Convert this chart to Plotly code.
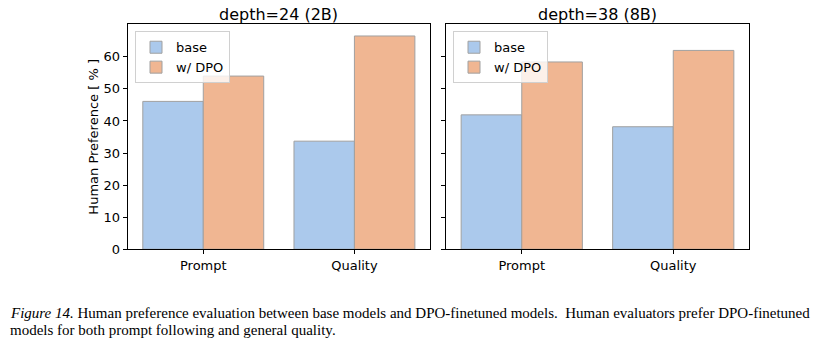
import plotly.graph_objects as go

categories = ["Prompt", "Quality"]
panel_titles = ["depth=24 (2B)", "depth=38 (8B)"]
series_names = ["base", "w/ DPO"]
base_2b = [46.1, 33.7]
dpo_2b = [54.0, 66.5]
base_8b = [41.9, 38.2]
dpo_8b = [58.4, 62.0]
y_ticks = [0, 10, 20, 30, 40, 50, 60]
caption_line1 = "<i>Figure 14.</i> Human preference evaluation between base models and DPO-finetuned models.  Human evaluators prefer DPO-finetuned"
caption_line2 = "models for both prompt following and general quality."

W, H = 836, 354
colors = ["#abc9ec", "#f0b692"]
edge = "#a0a0a0"
FONT = "DejaVu Sans"

fig = go.Figure()
panels = [(base_2b, dpo_2b, "x", "y", "legend"), (base_8b, dpo_8b, "x2", "y2", "legend2")]
for base, dpo, xa, ya, lg in panels:
    for name, vals, col in zip(series_names, [base, dpo], colors):
        fig.add_trace(go.Bar(
            x=categories, y=vals, name=name, xaxis=xa, yaxis=ya, legend=lg,
            marker=dict(color=col, line=dict(color=edge, width=1)),
            hoverinfo="skip",
        ))

def px_x(p):
    return p / W

def px_y(p):
    return 1 - p / H

ydom = [px_y(255), px_y(25)]
axis_common = dict(showline=True, linecolor="black", linewidth=1, mirror=True,
                   ticks="outside", ticklen=4, tickcolor="black", showgrid=False,
                   zeroline=False, tickfont=dict(family=FONT, size=13, color="black"))

fig.update_layout(
    width=W, height=H, margin=dict(l=0, r=0, t=0, b=0),
    paper_bgcolor="white", plot_bgcolor="white",
    barmode="group", bargap=0.2, bargroupgap=0,
    font=dict(family=FONT, size=13, color="black"),
    xaxis=dict(domain=[px_x(127.7), px_x(430)], range=[-0.5, 1.5], anchor="y", **axis_common),
    xaxis2=dict(domain=[px_x(446), px_x(749)], range=[-0.5, 1.5], anchor="y2", **axis_common),
    yaxis=dict(domain=ydom, range=[0, 70.1], tickvals=y_ticks, anchor="x",
               title=dict(text="Human Preference [ % ]", font=dict(family=FONT, size=13), standoff=1),
               **axis_common),
    yaxis2=dict(domain=ydom, range=[0, 70.1], tickvals=y_ticks, anchor="x2",
                showticklabels=False, **axis_common),
    legend=dict(x=px_x(135), y=px_y(32), xanchor="left", yanchor="top",
                bgcolor="rgba(255,255,255,0.8)", bordercolor="#d0d0d0", borderwidth=1,
                font=dict(family=FONT, size=13), tracegroupgap=0, itemwidth=30),
    legend2=dict(x=px_x(453), y=px_y(32), xanchor="left", yanchor="top",
                 bgcolor="rgba(255,255,255,0.8)", bordercolor="#d0d0d0", borderwidth=1,
                 font=dict(family=FONT, size=13), tracegroupgap=0, itemwidth=30),
    showlegend=True,
)

for title, (x0, x1) in zip(panel_titles, [(127.7, 430), (446, 749)]):
    fig.add_annotation(text=title, x=px_x((x0 + x1) / 2), y=px_y(15), xref="paper", yref="paper",
                       showarrow=False, xanchor="center", yanchor="middle",
                       font=dict(family=FONT, size=16, color="black"))

fig.add_annotation(text=caption_line1, x=px_x(8), y=px_y(320), xref="paper", yref="paper",
                   showarrow=False, xanchor="left", yanchor="middle",
                   font=dict(family="Liberation Serif", size=15, color="black"))
fig.add_annotation(text=caption_line2, x=px_x(8), y=px_y(338), xref="paper", yref="paper",
                   showarrow=False, xanchor="left", yanchor="middle",
                   font=dict(family="Liberation Serif", size=15, color="black"))

fig.write_html("out.html")
